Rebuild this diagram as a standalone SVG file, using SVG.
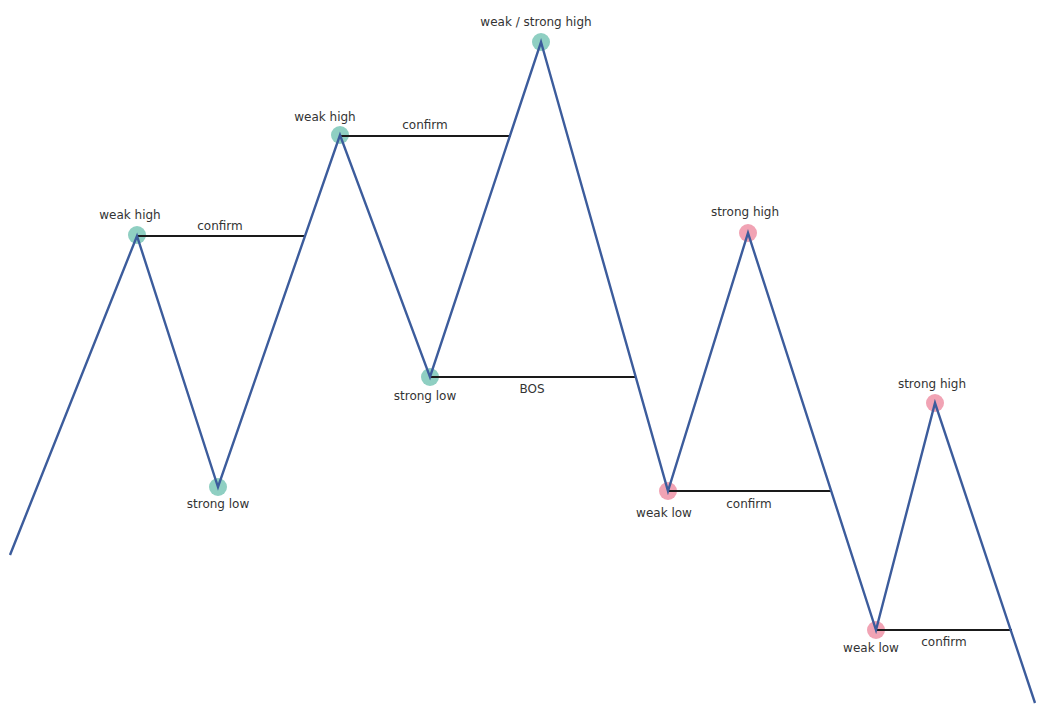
<svg xmlns="http://www.w3.org/2000/svg" width="1062" height="718" viewBox="0 0 1062 718">
<style>
.price{fill:none;stroke:#3c5c9c;stroke-width:2.4;stroke-linejoin:miter}
.lvl{stroke:#1a1a1a;stroke-width:2}
.t{font-family:"DejaVu Sans",Verdana,sans-serif;font-size:12px;fill:#333;text-anchor:middle}
.g{fill:#8fcfc2}
.p{fill:#f1a3b4}
</style>
<rect width="1062" height="718" fill="#ffffff"/>
<g id="nodes">
<g id="n1"><circle class="g" cx="137" cy="235" r="9"/><text class="t" x="130" y="219">weak high</text></g>
<g id="n2"><circle class="g" cx="218" cy="487" r="9"/><text class="t" x="218" y="508">strong low</text></g>
<g id="n3"><circle class="g" cx="340" cy="135" r="9"/><text class="t" x="325" y="121">weak high</text></g>
<g id="n4"><circle class="g" cx="430" cy="377" r="9"/><text class="t" x="425" y="400">strong low</text></g>
<g id="n5"><circle class="g" cx="541" cy="42" r="9"/><text class="t" x="536" y="26">weak / strong high</text></g>
<g id="n6"><circle class="p" cx="668" cy="491" r="9"/><text class="t" x="664" y="517">weak low</text></g>
<g id="n7"><circle class="p" cx="748" cy="233" r="9"/><text class="t" x="745" y="216">strong high</text></g>
<g id="n8"><circle class="p" cx="876" cy="630" r="9"/><text class="t" x="871" y="652">weak low</text></g>
<g id="n9"><circle class="p" cx="935" cy="403" r="9"/><text class="t" x="932" y="388">strong high</text></g>
</g>
<g id="connectors">
<line class="lvl" x1="137" y1="236" x2="305" y2="236"/>
<line class="lvl" x1="340" y1="136" x2="511" y2="136"/>
<line class="lvl" x1="430" y1="377" x2="636" y2="377"/>
<line class="lvl" x1="668" y1="491" x2="831" y2="491"/>
<line class="lvl" x1="876" y1="630" x2="1012" y2="630"/>
<polyline class="price" points="10,555 137,236 218,487 340,135 430,377 541,42 668,491 748,233 876,630 935,403 1035,703"/>
<text class="t" x="220" y="230">confirm</text>
<text class="t" x="425" y="129">confirm</text>
<text class="t" x="532" y="393">BOS</text>
<text class="t" x="749" y="508">confirm</text>
<text class="t" x="944" y="646">confirm</text>
</g>
</svg>
